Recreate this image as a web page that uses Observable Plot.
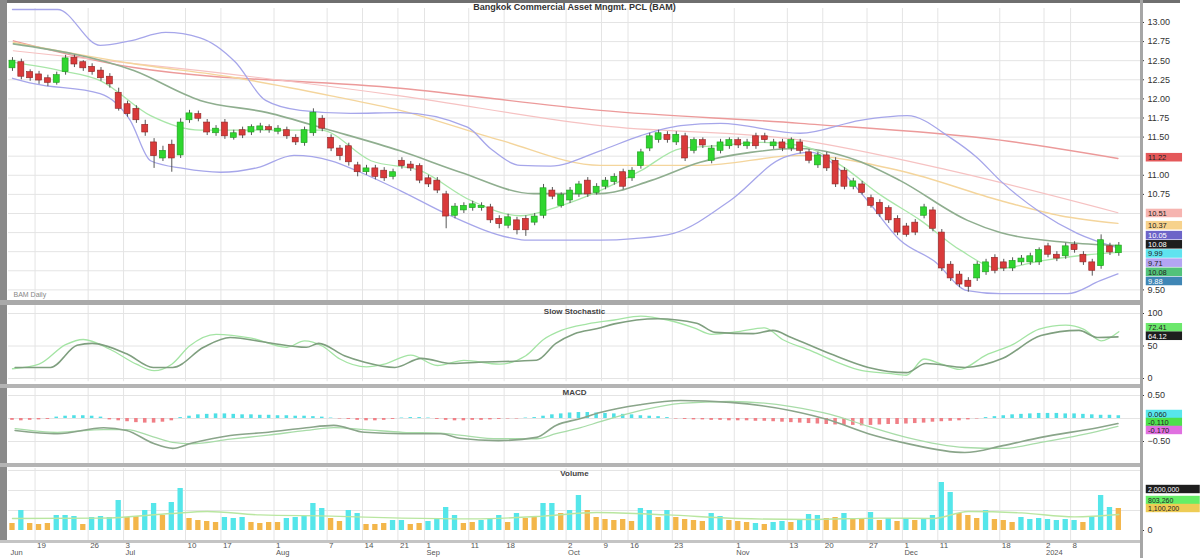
<!DOCTYPE html>
<html><head><meta charset="utf-8">
<script src="https://cdn.jsdelivr.net/npm/d3@7"></script>
<script src="https://cdn.jsdelivr.net/npm/@observablehq/plot@0.6"></script>
<style>
html,body{margin:0;padding:0;background:#fff;}
#wrap{position:relative;width:1200px;height:558px;overflow:hidden;font-family:"Liberation Sans",Arial,sans-serif;}
.deco{position:absolute;}
</style></head><body><div id="wrap"></div>
<script>
// ---------- DATA ----------
const title = "Bangkok Commercial Asset Mngmt. PCL (BAM)";
const open = [12.40,12.48,12.35,12.32,12.27,12.21,12.35,12.54,12.48,12.42,
12.37,12.29,12.08,11.93,11.87,11.66,11.43,11.22,11.40,11.26,
11.72,11.80,11.69,11.55,11.69,11.49,11.59,11.56,11.59,11.63,
11.57,11.59,11.49,11.42,11.55,11.74,11.49,11.35,11.38,11.13,
11.04,11.09,11.06,10.98,11.19,11.14,11.12,10.96,10.93,10.75,
10.47,10.54,10.57,10.57,10.58,10.43,10.34,10.41,10.43,10.38,
10.47,10.80,10.60,10.67,10.75,10.93,10.77,10.85,10.91,11.04,
10.96,11.12,11.35,11.46,11.53,11.43,11.51,11.32,11.46,11.19,
11.32,11.38,11.46,11.38,11.51,11.51,11.38,11.43,11.35,11.43,
11.30,11.13,11.26,11.19,11.06,10.85,10.88,10.70,10.64,10.57,
10.43,10.33,10.38,10.47,10.54,10.25,9.83,9.70,9.62,9.65,
9.73,9.92,9.86,9.78,9.86,9.86,9.86,10.07,9.96,9.94,
10.09,9.96,9.86,9.81,10.07,9.98];
const close = [12.50,12.29,12.27,12.24,12.21,12.31,12.53,12.45,12.40,12.35,
12.27,12.19,11.87,11.80,11.72,11.56,11.25,11.32,11.22,11.69,
11.81,11.74,11.56,11.61,11.51,11.55,11.52,11.63,11.64,11.59,
11.61,11.51,11.43,11.59,11.82,11.61,11.35,11.25,11.17,11.04,
11.09,10.98,10.96,11.04,11.12,11.09,10.93,10.88,10.80,10.46,
10.59,10.60,10.62,10.60,10.41,10.36,10.45,10.28,10.28,10.46,
10.83,10.72,10.74,10.80,10.88,10.75,10.85,10.93,10.98,10.85,
11.06,11.30,11.51,11.55,11.46,11.53,11.22,11.46,11.39,11.35,
11.43,11.46,11.39,11.43,11.38,11.46,11.43,11.35,11.46,11.32,
11.19,11.26,11.09,10.88,10.85,10.92,10.77,10.60,10.49,10.41,
10.25,10.22,10.25,10.58,10.30,9.78,9.65,9.57,9.54,9.83,
9.86,9.75,9.78,9.88,9.91,9.94,10.02,9.96,9.91,10.07,
10.02,9.86,9.75,10.15,9.99,10.08];
const high = [12.54,12.52,12.38,12.36,12.31,12.35,12.57,12.57,12.50,12.46,
12.41,12.33,12.14,11.97,11.91,11.72,11.48,11.38,11.46,11.74,
11.85,11.84,11.73,11.65,11.73,11.59,11.63,11.66,11.68,11.66,
11.65,11.63,11.53,11.63,11.87,11.78,11.53,11.39,11.42,11.17,
11.13,11.13,11.10,11.08,11.23,11.18,11.15,11.00,10.97,10.79,
10.63,10.64,10.66,10.64,10.62,10.47,10.49,10.45,10.47,10.50,
10.88,10.84,10.77,10.84,10.92,10.97,10.89,10.97,11.02,11.08,
11.10,11.34,11.55,11.59,11.57,11.57,11.55,11.49,11.49,11.39,
11.47,11.49,11.49,11.47,11.55,11.55,11.47,11.47,11.49,11.47,
11.34,11.30,11.30,11.23,11.10,10.96,10.92,10.74,10.68,10.60,
10.47,10.37,10.42,10.62,10.58,10.29,9.87,9.74,9.66,9.87,
9.90,9.96,9.90,9.92,9.95,9.98,10.05,10.11,10.00,10.11,
10.13,10.00,9.90,10.22,10.11,10.12];
const low = [12.36,12.25,12.23,12.19,12.16,12.18,12.31,12.41,12.36,12.31,
12.23,12.14,11.84,11.76,11.68,11.51,11.09,11.18,11.04,11.22,
11.68,11.70,11.52,11.51,11.47,11.46,11.48,11.52,11.55,11.55,
11.53,11.47,11.39,11.38,11.51,11.57,11.31,11.19,11.12,10.98,
11.00,10.94,10.92,10.94,11.08,11.05,10.89,10.84,10.76,10.30,
10.43,10.50,10.53,10.53,10.37,10.30,10.30,10.22,10.20,10.34,
10.43,10.68,10.57,10.63,10.71,10.71,10.74,10.81,10.87,10.81,
10.92,11.08,11.31,11.42,11.42,11.39,11.18,11.28,11.35,11.15,
11.28,11.34,11.35,11.34,11.34,11.42,11.34,11.31,11.31,11.28,
11.15,11.09,11.05,10.84,10.81,10.81,10.74,10.57,10.45,10.37,
10.21,10.19,10.21,10.43,10.26,9.74,9.61,9.53,9.47,9.61,
9.69,9.71,9.74,9.74,9.82,9.82,9.82,9.92,9.87,9.90,
9.98,9.82,9.68,9.77,9.95,9.94];
// volume, millions of shares
const volume = [0.35,1.0,0.35,0.3,0.35,0.75,0.75,0.7,0.3,0.65,
0.7,0.65,1.5,0.65,0.7,1.0,1.35,0.75,1.4,2.1,
0.6,0.5,0.45,0.4,0.65,0.6,0.65,0.4,0.35,0.4,
0.4,0.6,0.65,0.7,1.35,1.1,0.6,0.45,1.0,0.85,
0.3,0.3,0.35,0.5,0.5,0.3,0.35,0.45,0.55,1.15,
0.75,0.35,0.4,0.5,0.55,0.75,0.4,0.85,0.6,0.65,
1.35,1.35,0.85,1.0,1.75,1.0,0.65,0.55,0.5,0.55,
0.45,1.1,1.0,0.65,1.0,0.65,0.55,0.5,0.45,0.85,
0.7,0.5,0.45,0.4,0.35,0.3,0.4,0.45,0.4,0.5,
0.8,0.75,0.6,0.65,0.85,0.6,0.55,0.9,0.5,0.6,
0.45,0.55,0.5,0.6,0.75,2.4,1.9,0.85,0.75,0.6,
1.0,0.55,0.5,0.4,0.65,0.55,0.6,0.55,0.5,0.55,
0.5,0.4,0.65,1.75,1.15,1.1];
const volumeTone = ("ocooocccoc"+"cccooccocc"+"oooocccooo"+"occcccoocc"+"oooccooccc"+"coocccocoo"+
  "ccoccooooo"+"occocooooc"+"cooococcoc"+"ccoocoococ"+"ococcccooo"+"cooocccccc"+"coccco").split("");
const volumeMA = [[0,0.6],[10,0.62],[18,0.85],[22,0.95],[28,0.78],[36,0.72],[44,0.62],[52,0.58],[60,0.72],[66,0.9],[74,0.78],[82,0.6],[90,0.55],[98,0.62],[104,0.6],[108,0.95],[114,0.88],[120,0.68],[125,0.8]];

// overlays on the price panel: [bar index, value]
const bbUpper = [[0,13.17],[5.1,13.17],[9.9,12.70],[13.3,12.76],[17.3,12.87],[21.2,12.80],[25.2,12.48],[28.6,11.98],[32.5,11.85],[38.2,11.81],[43.8,11.82],[51.4,11.63],[54,11.35],[57.4,11.13],[60.8,11.12],[66.4,11.32],[71,11.52],[75.5,11.65],[80,11.68],[89,11.55],[95.8,11.72],[101.1,11.78],[106,11.49],[109,11.23],[111.6,10.93],[116.2,10.51],[120.3,10.24],[124.9,10.05]];
const bbLower = [[0,12.27],[2.4,12.20],[9.9,12.07],[13.3,11.72],[15.6,11.19],[19.3,11.09],[23.5,11.04],[27.7,11.10],[31.8,11.26],[36,11.19],[39.3,11.04],[43.8,10.80],[49.5,10.47],[56.3,10.18],[58.2,10.15],[66.4,10.15],[70.2,10.17],[74.7,10.24],[81.1,10.67],[87.1,11.23],[90.2,11.30],[93.6,11.06],[96.6,10.67],[100.3,10.15],[104.1,9.88],[107.9,9.49],[111.6,9.45],[119.2,9.45],[122.9,9.62],[124.9,9.71]];
const maShort = [[0,12.48],[5.4,12.37],[9.9,12.24],[15.6,11.78],[21.2,11.59],[28,11.59],[34.8,11.59],[40.5,11.19],[46.1,11.06],[51.8,10.67],[57.4,10.47],[61.9,10.60],[66.4,10.80],[71,11.06],[75.5,11.35],[80,11.39],[84.5,11.43],[89,11.39],[93.6,11.13],[98.1,10.74],[102.6,10.41],[107.1,10.02],[111.6,9.78],[116.2,9.88],[120.7,9.95],[124.9,9.99]];
const maMid = [[0.1,12.72],[13.7,12.37],[21.2,11.98],[28.8,11.82],[35.9,11.59],[43.8,11.32],[50.6,11.04],[58.9,10.76],[66.4,10.76],[72.1,10.93],[77.7,11.17],[83.4,11.30],[89,11.35],[95.5,11.19],[100.3,10.93],[107.9,10.41],[111.6,10.25],[119.2,10.12],[124.9,10.08]];
const maLong = [[0.1,12.74],[13.7,12.46],[25,12.28],[36,12.04],[43.8,11.85],[55.1,11.46],[66.4,11.13],[77.7,11.13],[89,11.26],[100.3,11.06],[111.6,10.67],[118.4,10.47],[124.9,10.37]];
const ma100 = [[0.1,12.63],[21.2,12.37],[43.8,12.04],[66.4,11.65],[89,11.46],[106,11.06],[124.9,10.51]];
const ma200 = [[0.1,12.76],[13.7,12.41],[43.8,12.14],[66.4,11.85],[89,11.68],[111.6,11.46],[124.9,11.22]];

// slow stochastic
const stochK = [[0,15],[3,22],[6,52],[8,60],[11,45],[14,22],[16,12],[18,22],[20,50],[23,68],[27,62],[31,48],[33,58],[35,50],[37,30],[40,18],[42,22],[45,36],[48,20],[51,28],[55,22],[58,35],[60,60],[62,74],[65,84],[68,90],[71,96],[74,90],[77,78],[79,68],[82,72],[85,78],[87,60],[90,44],[93,26],[96,12],[99,8],[101,5],[103,30],[105,22],[107,14],[110,36],[113,52],[116,76],[119,82],[121,76],[123,58],[125,72]];
const stochD = [[0.3,17],[4.3,17],[7.3,51],[9,54],[12.9,38],[15.9,17],[18.1,17],[21.6,48],[24.6,63],[28.9,55],[33.2,48],[34.6,54],[37.5,35],[39.8,25],[43.2,17],[46.2,31],[49.7,23],[52.7,25],[59.2,28],[61.4,54],[63.5,69],[66.1,77],[68,84],[72.9,92],[77.3,85],[79.4,71],[83.7,69],[85.9,74],[88,63],[92.4,38],[96.7,17],[101,9],[103.2,23],[107.6,17],[111.9,31],[116.2,66],[120.5,74],[122.6,63],[124.9,64]];

// MACD
const macdLine = [[0.3,-0.26],[5.1,-0.33],[10.3,-0.20],[12.9,-0.26],[15.9,-0.54],[18.1,-0.65],[20.2,-0.54],[24.6,-0.37],[28.9,-0.30],[33.2,-0.20],[36.3,-0.15],[39.8,-0.30],[44.1,-0.33],[48.4,-0.33],[50.5,-0.43],[54.9,-0.48],[59.2,-0.41],[61.4,-0.15],[64.2,0.0],[66.4,0.13],[70.9,0.30],[75.5,0.39],[81.1,0.35],[88,0.17],[92.4,-0.04],[96.7,-0.33],[101,-0.54],[107.6,-0.74],[111.9,-0.59],[116.2,-0.41],[122.6,-0.20],[124.9,-0.11]];
const macdSignal = [[0.3,-0.22],[5.1,-0.30],[10.3,-0.24],[12.9,-0.24],[15.9,-0.40],[18.1,-0.52],[20.2,-0.55],[24.6,-0.45],[28.9,-0.36],[33.2,-0.26],[36.3,-0.20],[39.8,-0.24],[44.1,-0.30],[48.4,-0.32],[50.5,-0.36],[54.9,-0.44],[59.2,-0.44],[61.4,-0.33],[64.2,-0.20],[66.4,-0.07],[70.9,0.17],[75.5,0.33],[81.1,0.37],[88,0.26],[92.4,0.09],[96.7,-0.17],[101,-0.41],[107.6,-0.63],[111.9,-0.65],[116.2,-0.52],[122.6,-0.28],[124.9,-0.17]];
const macdHist = [-0.04,-0.05,-0.04,-0.03,-0.02,0.03,0.05,0.06,0.06,0.05,
0.03,-0.03,-0.05,-0.07,-0.09,-0.10,-0.10,-0.08,-0.05,0.02,
0.05,0.08,0.09,0.10,0.10,0.09,0.08,0.08,0.07,0.07,
0.06,0.06,0.05,0.05,0.04,0.03,0.01,-0.01,-0.02,-0.04,
-0.05,-0.05,-0.04,-0.02,0.01,0.02,0.02,0.01,-0.02,-0.04,
-0.05,-0.05,-0.04,-0.04,-0.03,-0.02,-0.01,-0.01,0.01,0.02,
0.05,0.08,0.10,0.12,0.13,0.13,0.12,0.11,0.10,0.09,
0.08,0.06,0.05,0.04,0.02,-0.01,-0.02,-0.03,-0.03,-0.04,
-0.04,-0.05,-0.05,-0.05,-0.06,-0.06,-0.07,-0.08,-0.09,-0.10,
-0.11,-0.12,-0.13,-0.14,-0.15,-0.15,-0.16,-0.15,-0.14,-0.13,
-0.13,-0.12,-0.11,-0.10,-0.08,-0.07,-0.06,-0.05,-0.03,-0.01,
0.02,0.04,0.06,0.08,0.09,0.10,0.11,0.11,0.11,0.10,
0.10,0.09,0.08,0.07,0.07,0.06];

// axes
const priceGrid = [9.5,9.75,10,10.25,10.5,10.75,11,11.25,11.5,11.75,12,12.25,12.5,12.75,13];
const priceTickLabels = [9.5,10.75,11,11.5,11.75,12,12.25,12.5,12.75,13];
const dayTicks = [3,9,13,20,24,30,36,40,44,47,52,56,63,67,70,75,82,88,92,97,101,105,112,117,120];
const dayLabels = ["19","26","3","10","17","1","7","14","21","1","11","18","2","9","16","23","1","13","20","27","1","11","18","2","8"];
const monthTicks = [0,13,30,47,63,82,101,117];
const monthLabels = ["Jun","Jul","Aug","Sep","Oct","Nov","Dec","2024"];

// last-value tags on the right-hand axis
const priceTagPos = [11.23,10.50,10.34,10.21,10.09,9.97,9.85,9.73,9.61];
const priceTagText = ["11.22","10.51","10.37","10.05","10.08","9.99","9.71","10.08","9.88"];
const priceTagFill = ["#e4585a","#f6b4b0","#f7d28c","#6c64c8","#1e1e1e","#5fe3ef","#b3a5f2","#52c27a","#3f86b5"];
const priceTagInk = ["#222","#222","#222","#fff","#fff","#222","#222","#222","#fff"];
const stochTagPos = [78,65];
const stochTagText = ["72.41","64.12"];
const stochTagFill = ["#6ce86c","#1e1e1e"];
const stochTagInk = ["#222","#fff"];
const macdTagPos = [0.087,-0.087,-0.26];
const macdTagText = ["0.060","-0.110","-0.170"];
const macdTagFill = ["#57e6ec","#4de04d","#e070e0"];
const macdTagInk = ["#222","#222","#222"];
const volTagPos = [2.05,1.5,1.1];
const volTagText = ["2,000,000","803,260","1,100,200"];
const volTagFill = ["#1e1e1e","#66ee66","#eecc55"];
const volTagInk = ["#fff","#222","#222"];

// ---------- DRAWING ----------
const wrap = document.getElementById("wrap");
const idx = d3.range(open.length);
const XDOM = [-0.45, 127.45];
const baseStyle = {background:"transparent", fontFamily:"'Liberation Sans', Arial, sans-serif", fontSize:"9px", color:"#333", overflow:"visible"};
const gridC = "#e4e4e4";

function tags(pos, text, fill, ink, half, x2 = 132.2, fs = 7.5) {
  const k = d3.range(pos.length);
  return [
    Plot.rect(k, {x1: () => 128.1, x2: () => x2, y1: i => pos[i] - half, y2: i => pos[i] + half, fill: i => fill[i]}),
    Plot.text(k, {x: () => 128.3, y: i => pos[i], text: i => text[i], textAnchor: "start", fill: i => ink[i], fontSize: fs})
  ];
}
function lineOf(arr, stroke, w) {
  return Plot.line(arr, {x: d => d[0], y: d => d[1], stroke, strokeWidth: w, curve: "monotone-x"});
}
function place(svg, top) {
  svg.style.position = "absolute"; svg.style.left = "0px"; svg.style.top = top + "px";
  wrap.appendChild(svg);
}

// Price panel
const price = Plot.plot({
  width: 1200, height: 302, marginTop: 8, marginBottom: 2, marginLeft: 8, marginRight: 60,
  style: baseStyle,
  color: {type: "identity"},
  x: {domain: XDOM, axis: null},
  y: {domain: [9.361, 13.183], axis: "right", ticks: priceTickLabels, tickFormat: d3.format(".2f"), tickSize: 3, tickPadding: 4, label: null},
  marks: [
    Plot.ruleY(priceGrid, {stroke: gridC}),
    Plot.ruleX(dayTicks, {x: d => d - 0.45, stroke: gridC}),
    lineOf(ma200, "#ec9a9a", 1.4),
    lineOf(ma100, "#f6c2c2", 1.2),
    lineOf(maLong, "#f4d59c", 1.4),
    lineOf(bbUpper, "#a6a6ea", 1.3),
    lineOf(bbLower, "#a6a6ea", 1.3),
    lineOf(maMid, "#8fae8f", 1.6),
    lineOf(maShort, "#a8e6a8", 1.3),
    Plot.ruleX(idx, {x: i => i, y1: i => low[i], y2: i => high[i], stroke: "#555", strokeWidth: 1}),
    Plot.rect(idx, {x1: i => i - 0.34, x2: i => i + 0.34, y1: i => open[i], y2: i => close[i],
      fill: i => close[i] >= open[i] ? "#2fd62f" : "#d93a3a",
      stroke: i => close[i] >= open[i] ? "#1f9a1f" : "#8e2424", strokeWidth: 0.6}),
    Plot.text([title], {frameAnchor: "top", dy: -1, lineAnchor: "middle", fontSize: 9, fontWeight: "bold", fill: "#333"}),
    Plot.text(["BAM Daily"], {frameAnchor: "bottom-left", dx: 5, dy: -4, fontSize: 7, fill: "#888", textAnchor: "start"}),
    ...tags(priceTagPos, priceTagText, priceTagFill, priceTagInk, 0.056)
  ]
});
place(price, 0);

// Slow stochastic panel
const stoch = Plot.plot({
  width: 1200, height: 84, marginTop: 11, marginBottom: 8, marginLeft: 8, marginRight: 60,
  style: baseStyle,
  color: {type: "identity"},
  x: {domain: XDOM, axis: null},
  y: {domain: [0, 100], axis: "right", ticks: [0, 50, 100], tickSize: 3, tickPadding: 4, label: null},
  marks: [
    Plot.ruleY([0, 50, 100], {stroke: gridC}),
    Plot.ruleX(dayTicks, {x: d => d - 0.45, y1: -5, y2: 112, stroke: gridC}),
    lineOf(stochK, "#a4e4a4", 1.3),
    lineOf(stochD, "#7f9f7f", 1.6),
    Plot.text(["Slow Stochastic"], {frameAnchor: "top", dy: -2, lineAnchor: "middle", fontSize: 8, fontWeight: "bold", fill: "#444"}),
    ...tags(stochTagPos, stochTagText, stochTagFill, stochTagInk, 6.6)
  ]
});
place(stoch, 302);

// MACD panel
const macd = Plot.plot({
  width: 1200, height: 80, marginTop: 2, marginBottom: 3, marginLeft: 8, marginRight: 60,
  style: baseStyle,
  color: {type: "identity"},
  x: {domain: XDOM, axis: null},
  y: {domain: [-0.978, 0.652], axis: "right", ticks: [-0.5, 0.5], tickFormat: d3.format(".2f"), tickSize: 3, tickPadding: 4, label: null},
  marks: [
    Plot.ruleY([-0.5, 0, 0.5], {stroke: gridC}),
    Plot.ruleX(dayTicks, {x: d => d - 0.45, stroke: gridC}),
    Plot.rect(idx, {x1: i => i - 0.2, x2: i => i + 0.2, y1: () => 0, y2: i => macdHist[i],
      fill: i => macdHist[i] >= 0 ? "#4fe0e6" : "#f07f86"}),
    lineOf(macdSignal, "#a8dca8", 1.3),
    lineOf(macdLine, "#8aa58a", 1.6),
    Plot.text(["MACD"], {frameAnchor: "top", dy: 4, lineAnchor: "middle", fontSize: 8, fontWeight: "bold", fill: "#444"}),
    ...tags(macdTagPos, macdTagText, macdTagFill, macdTagInk, 0.092)
  ]
});
place(macd, 386);

// Volume panel
const vol = Plot.plot({
  width: 1200, height: 92, marginTop: 2, marginBottom: 28, marginLeft: 8, marginRight: 60,
  style: baseStyle,
  color: {type: "identity"},
  x: {domain: XDOM, axis: null},
  y: {domain: [0, 3.1], axis: "right", ticks: [0], tickFormat: () => "0", tickSize: 3, tickPadding: 4, label: null},
  marks: [
    Plot.ruleY([1, 2, 3], {stroke: gridC}),
    Plot.ruleX(dayTicks, {x: d => d - 0.45, y1: -0.5, y2: 3.1, stroke: gridC}),
    Plot.rect(idx, {x1: i => i - 0.3, x2: i => i + 0.3, y1: () => 0, y2: i => volume[i],
      fill: i => volumeTone[i] === "c" ? "#55e6ea" : "#f3b64a"}),
    lineOf(volumeMA, "#b9e6a0", 1.4),
    Plot.text(["Volume"], {frameAnchor: "top", dy: 5, lineAnchor: "middle", fontSize: 8, fontWeight: "bold", fill: "#444"}),
    ...tags(volTagPos, volTagText, volTagFill, volTagInk, 0.21, 134.2, 7),
    Plot.text(dayTicks, {x: d => d - 0.45, y: () => 0, dy: 15, dx: 2, text: (d, i) => dayLabels[i], textAnchor: "start", fontSize: 8, fill: "#555"}),
    Plot.text(monthTicks, {x: d => d - 0.45, y: () => 0, dy: 22, dx: 2, text: (d, i) => monthLabels[i], textAnchor: "start", fontSize: 7.5, fill: "#555"})
  ]
});
place(vol, 466);

// panel borders
function deco(x, y, w, h, c) {
  const d = document.createElement("div");
  d.className = "deco";
  Object.assign(d.style, {left: x + "px", top: y + "px", width: w + "px", height: h + "px", background: c});
  wrap.appendChild(d);
}
deco(0, 0, 1180, 3, "#6f6f6f");
deco(0, 0, 7, 541, "#8a8a8a");
deco(0, 300, 1143, 5, "#a9a9a9");
deco(0, 384, 1143, 4, "#b4b4b4");
deco(0, 463, 1143, 4, "#b4b4b4");
deco(0, 540, 1143, 3, "#c4c4c4");
deco(1140, 0, 3, 558, "#a6a6a6");
</script></body></html>
